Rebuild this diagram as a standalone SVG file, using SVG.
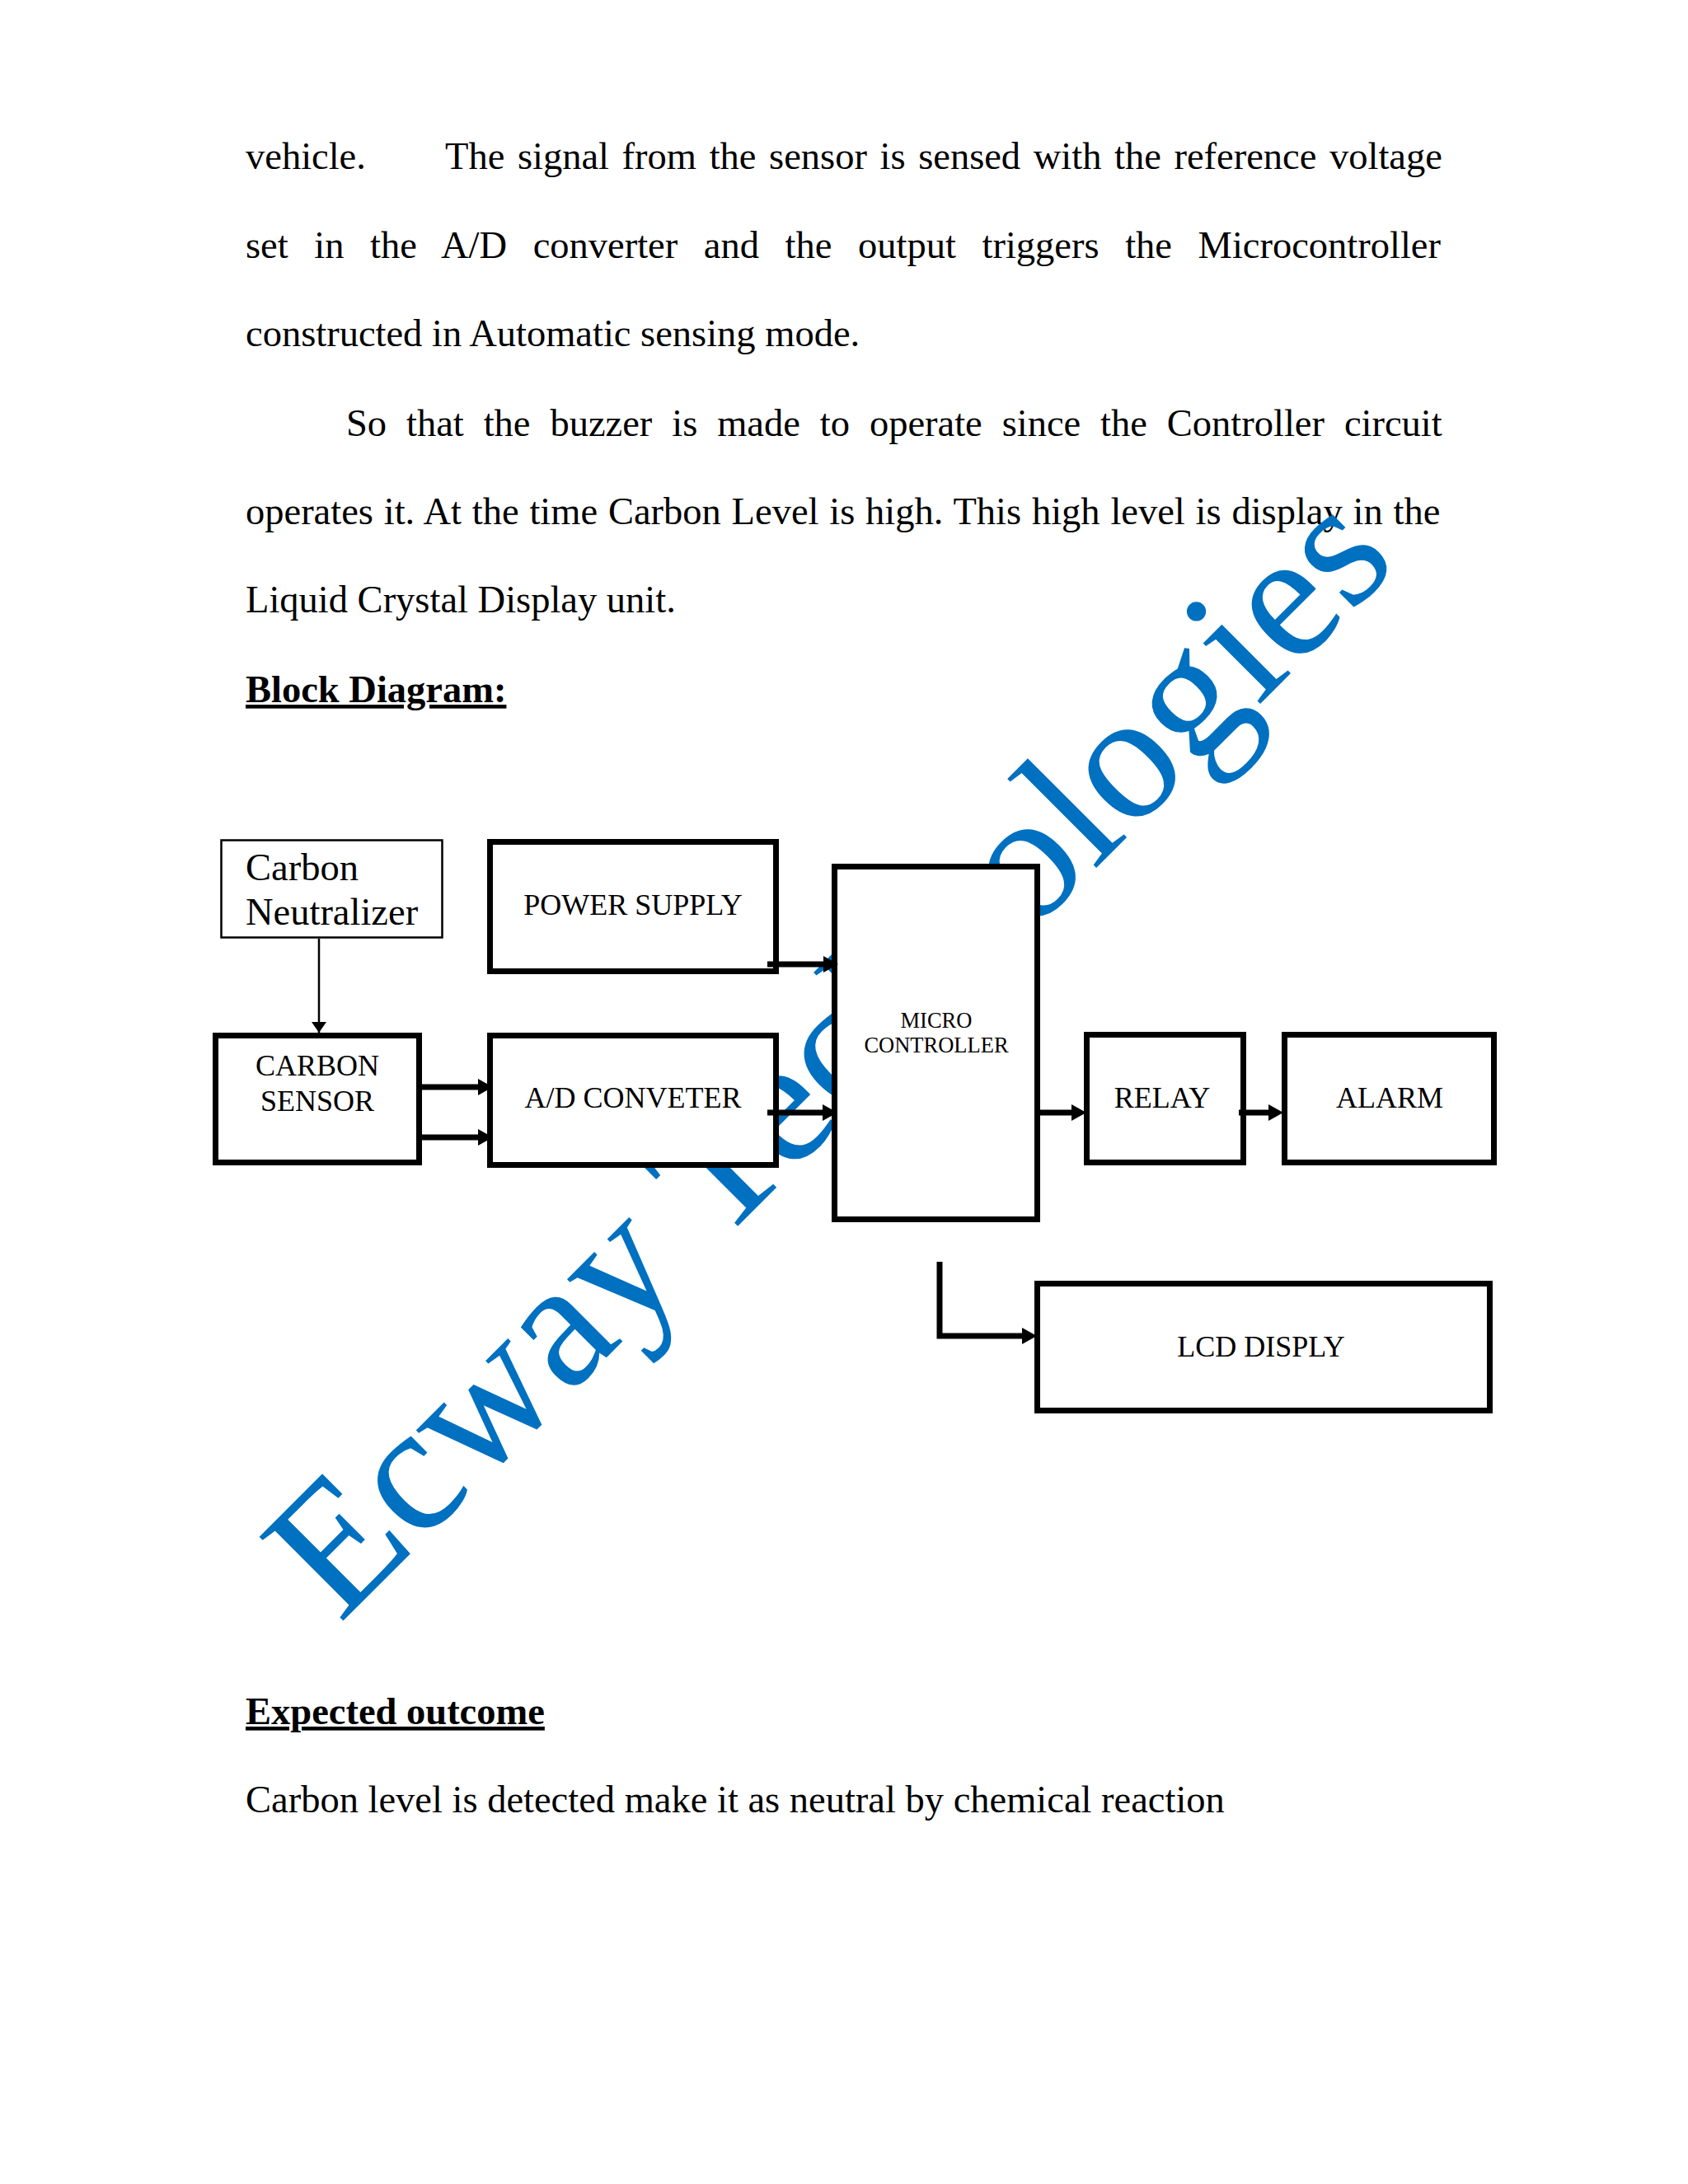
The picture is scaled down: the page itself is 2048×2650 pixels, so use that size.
<svg xmlns="http://www.w3.org/2000/svg" width="2048" height="2650" viewBox="0 0 2048 2650">
<style>
.body{font-family:"Liberation Serif","Times New Roman",serif;font-size:46.5px;fill:#000}
.head{font-family:"Liberation Serif","Times New Roman",serif;font-size:46.5px;font-weight:bold;fill:#000;text-decoration:underline}
.lbl{font-family:"Liberation Serif","Times New Roman",serif;font-size:36px;fill:#000;text-anchor:middle}
.lblS{font-family:"Liberation Serif","Times New Roman",serif;font-size:26.5px;fill:#000;text-anchor:middle}
.lblL{font-family:"Liberation Serif","Times New Roman",serif;font-size:46.5px;fill:#000}
.box{fill:#fff;stroke:#000;stroke-width:7}
.thin{fill:#fff;stroke:#000;stroke-width:2.5}
.wire{fill:none;stroke:#000;stroke-width:7}
.wireThin{fill:none;stroke:#000;stroke-width:2.5}
.wm{font-family:"Liberation Serif","Times New Roman",serif;font-size:220px;fill:#0070C0}
</style>
<defs>
<marker id="ah" markerUnits="userSpaceOnUse" markerWidth="20" markerHeight="22" refX="6" refY="10" orient="auto">
<path d="M0,0 L18,10 L0,20 z" fill="#000"/>
</marker>
<marker id="ahThin" markerUnits="userSpaceOnUse" markerWidth="15" markerHeight="20" refX="13" refY="9" orient="auto">
<path d="M0,0 L13,9 L0,18 z" fill="#000"/>
</marker>
</defs>
<rect width="2048" height="2650" fill="#fff"/>

<g id="paragraph">
<text class="body" x="298" y="205">vehicle.</text>
<text class="body" x="540" y="205" style="word-spacing:4px">The signal from the sensor is sensed with the reference voltage</text>
<text class="body" x="298" y="313" style="word-spacing:20px">set in the A/D converter and the output triggers the Microcontroller</text>
<text class="body" x="298" y="420">constructed in Automatic sensing mode.</text>
<text class="body" x="420" y="529" style="word-spacing:12.3px">So that the buzzer is made to operate since the Controller circuit</text>
<text class="body" x="298" y="636" style="word-spacing:1.2px">operates it. At the time Carbon Level is high. This high level is display in the</text>
<text class="body" x="298" y="743">Liquid Crystal Display unit.</text>
<text class="head" x="298" y="852">Block Diagram:</text>
<text class="head" x="298" y="2092">Expected outcome</text>
<text class="body" x="298" y="2199">Carbon level is detected make it as neutral by chemical reaction</text>
</g>

<g id="watermark">
<text class="wm" x="412" y="1971" transform="rotate(-45 412 1971)">Ecway Technologies</text>
</g>

<g id="node-carbon-neutralizer">
<rect class="thin" x="268.5" y="1019.5" width="268" height="118"/>
<text class="lblL" x="298" y="1068">Carbon</text>
<text class="lblL" x="298" y="1122">Neutralizer</text>
</g>
<g id="node-power-supply">
<rect class="box" x="594.5" y="1021.5" width="347" height="157"/>
<text class="lbl" x="768" y="1110">POWER SUPPLY</text>
</g>
<g id="node-microcontroller">
<rect class="box" x="1012.5" y="1051.5" width="246" height="428"/>
<text class="lblS" x="1136" y="1247">MICRO</text>
<text class="lblS" x="1136" y="1277">CONTROLLER</text>
</g>
<g id="node-carbon-sensor">
<rect class="box" x="261.5" y="1256.5" width="247" height="154"/>
<text class="lbl" x="385" y="1305">CARBON</text>
<text class="lbl" x="385" y="1348">SENSOR</text>
</g>
<g id="node-ad-converter">
<rect class="box" x="594.5" y="1256.5" width="347" height="157"/>
<text class="lbl" x="768" y="1344">A/D CONVETER</text>
</g>
<g id="node-relay">
<rect class="box" x="1318.5" y="1255.5" width="190" height="155"/>
<text class="lbl" x="1410" y="1344">RELAY</text>
</g>
<g id="node-alarm">
<rect class="box" x="1558.5" y="1255.5" width="254" height="155"/>
<text class="lbl" x="1686" y="1344">ALARM</text>
</g>
<g id="node-lcd">
<rect class="box" x="1258.5" y="1557.5" width="549" height="154"/>
<text class="lbl" x="1530" y="1646">LCD DISPLY</text>
</g>

<g id="connectors">
<line class="wireThin" x1="387" y1="1139" x2="387" y2="1253" marker-end="url(#ahThin)"/>
<line class="wire" x1="931" y1="1170" x2="1005" y2="1170" marker-end="url(#ah)"/>
<line class="wire" x1="508" y1="1319" x2="586" y2="1319" marker-end="url(#ah)"/>
<line class="wire" x1="508" y1="1380" x2="586" y2="1380" marker-end="url(#ah)"/>
<line class="wire" x1="931" y1="1350" x2="1004" y2="1350" marker-end="url(#ah)"/>
<line class="wire" x1="1262" y1="1350" x2="1306" y2="1350" marker-end="url(#ah)"/>
<line class="wire" x1="1503" y1="1350" x2="1545" y2="1350" marker-end="url(#ah)"/>
<polyline class="wire" points="1140,1531 1140,1621 1246,1621" marker-end="url(#ah)"/>
</g>
</svg>
